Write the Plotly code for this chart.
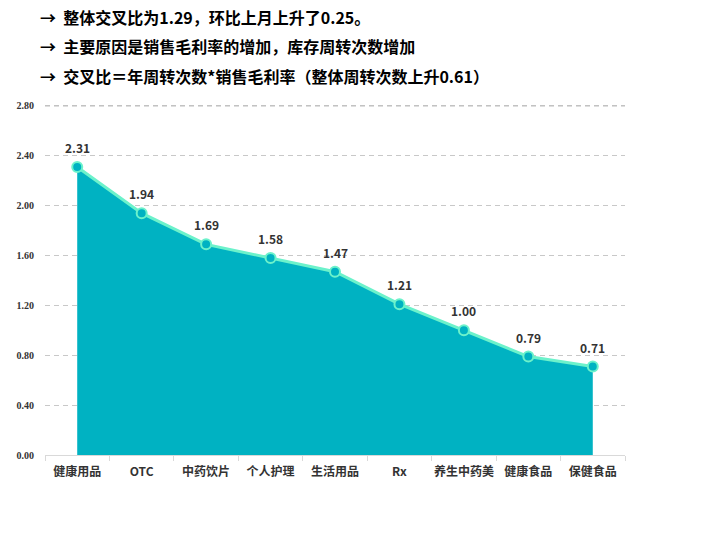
import plotly.graph_objects as go

categories = ["健康用品", "OTC", "中药饮片", "个人护理", "生活用品", "Rx", "养生中药美", "健康食品", "保健食品"]
values = [2.31, 1.94, 1.69, 1.58, 1.47, 1.21, 1.00, 0.79, 0.71]
labels = ["2.31", "1.94", "1.69", "1.58", "1.47", "1.21", "1.00", "0.79", "0.71"]
y_ticks = [0, 0.4, 0.8, 1.2, 1.6, 2.0, 2.4, 2.8]
y_tick_text = ["0.00", "0.40", "0.80", "1.20", "1.60", "2.00", "2.40", "2.80"]
notes = [
    "→  整体交叉比为1.29，环比上月上升了0.25。",
    "→  主要原因是销售毛利率的增加，库存周转次数增加",
    "→  交叉比＝年周转次数*销售毛利率（整体周转次数上升0.61）",
]

CJK = "Noto Sans CJK SC"
fig = go.Figure()
fig.add_trace(go.Scatter(
    x=categories, y=values,
    mode="lines+markers",
    fill="tozeroy", fillcolor="#00B2C2",
    line=dict(color="#6CF2CB", width=3),
    marker=dict(size=10, color="#00B2C2", line=dict(color="#6CF2CB", width=2)),
    cliponaxis=False,
    hoverinfo="skip",
))
for c, v, lab in zip(categories, values, labels):
    fig.add_annotation(
        x=c, y=v, text=lab, showarrow=False, yanchor="bottom", yshift=9,
        font=dict(family=CJK, size=12, color="#333333", weight="bold"),
    )

note_y = [1.248, 1.165, 1.080]
for t, yy in zip(notes, note_y):
    fig.add_annotation(
        text=t, xref="paper", yref="paper", x=-0.012, y=yy,
        xanchor="left", yanchor="middle", showarrow=False,
        font=dict(family=CJK, size=16, color="#000000", weight="bold"),
    )

fig.add_shape(type="line", xref="paper", yref="paper", x0=0, x1=1, y0=0.9943, y1=0.9943,
              line=dict(color="#BDBDBD", width=1, dash="5px,4px"), layer="above")

fig.update_layout(
    width=706, height=539,
    margin=dict(l=45, r=81, t=104, b=84),
    paper_bgcolor="white", plot_bgcolor="white",
    showlegend=False,
    xaxis=dict(
        type="category", range=[-0.5, 8.5],
        showline=True, linecolor="#D9D9D9", linewidth=1,
        ticks="outside", tickson="boundaries", tickcolor="#D9D9D9", ticklen=5,
        showgrid=False, tickangle=0, ticklabelstandoff=6,
        tickfont=dict(family=CJK, size=12, color="#333333", weight="bold"),
    ),
    yaxis=dict(
        range=[0, 2.816], tickvals=y_ticks, ticktext=y_tick_text,
        showgrid=True, gridcolor="#C8C8C8", griddash="5px,4px", gridwidth=1,
        zeroline=False, showline=False,
        ticklabelstandoff=10,
        tickfont=dict(family="Liberation Serif", size=10, color="#333333", weight="bold"),
    ),
)

fig.write_html("out.html")
